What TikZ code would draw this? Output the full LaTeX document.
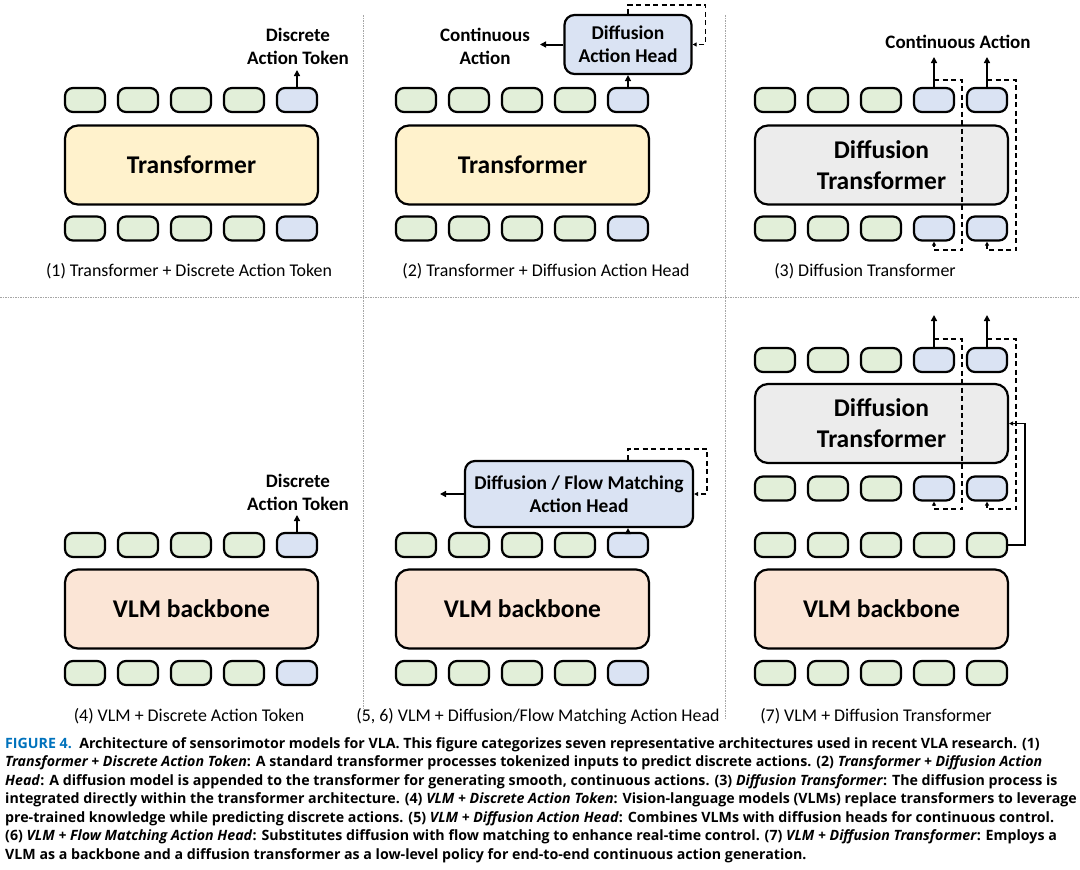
\documentclass[tikz,border=0pt]{standalone}
\usepackage{xcolor}
\usepackage{fontspec}
\setmainfont{Carlito}
\newfontfamily\capfont{Open Sans}
\usepackage{tikz}
\usetikzlibrary{arrows.meta,positioning,calc}
\definecolor{tokgreen}{RGB}{226,239,217}
\definecolor{tokblue}{RGB}{218,227,243}
\definecolor{tfyellow}{RGB}{255,242,204}
\definecolor{ditgray}{RGB}{236,236,236}
\definecolor{vlmpeach}{RGB}{251,229,214}
\definecolor{figblue}{RGB}{0,114,188}
\newcommand{\fsz}[2]{\fontsize{#1}{#2}\selectfont}

\begin{document}
\begin{tikzpicture}[x=1pt, y=-1pt,
  token/.style={draw=black, line width=2.2pt, rounded corners=8pt,
                minimum width=40pt, minimum height=24pt, inner sep=0pt},
  gtok/.style={token, fill=tokgreen},
  btok/.style={token, fill=tokblue},
  bigbox/.style={draw=black, line width=2.2pt, rounded corners=13pt, align=center,
                 minimum width=253pt, minimum height=79pt, inner sep=0pt,
                 font=\fsz{25.5}{31}\bfseries},
  headbox/.style={draw=black, line width=2.2pt, rounded corners=10pt, align=center,
                  fill=tokblue, inner sep=0pt, font=\fsz{19.5}{23}\bfseries},
  lbl/.style={align=center, font=\fsz{19}{23}\bfseries},
  subcap/.style={font=\fsz{17.9}{21}},
  sep/.style={draw=black!35, line width=0.7pt, dash pattern=on 1.5pt off 1pt},
  arr/.style={-{Triangle[length=6pt, width=6pt]}, line width=2pt},
  dasharr/.style={-{Triangle[length=4pt, width=4pt]}, line width=1.4pt,
                  dash pattern=on 5pt off 3.5pt},
  thinarr/.style={-{Triangle[length=4pt, width=4pt]}, line width=1.3pt}]
  \clip (0,0) rectangle (1080,870);
  % panel separators
  \draw[sep] (0,297) -- (1080,297);
  \draw[sep] (363,15) -- (363,720);
  \draw[sep] (725,15) -- (725,720);

  % (1) Transformer + Discrete Action Token
  \node[bigbox, fill=tfyellow] (p1box) at (191.5,165) {Transformer};
  \foreach \i in {1,...,4} {
    \node[gtok] (p1u\i) at ({32+53*\i},100) {};
    \node[gtok] (p1l\i) at ({32+53*\i},228.5) {};
  }
  \node[btok] (p1u5) at (297,100) {};
  \node[btok] (p1l5) at (297,228.5) {};
  \node[lbl] (p1lbl) at (298,46) {Discrete\\Action Token};
  \coordinate (p1out) at (297,70);
  \draw[arr] (p1u5.north) -- (p1out);
  \node[subcap] (p1cap) at (189,271) {(1) Transformer + Discrete Action Token};

  % (2) Transformer + Diffusion Action Head
  \node[bigbox, fill=tfyellow] (p2box) at (522.5,165) {Transformer};
  \foreach \i in {1,...,4} {
    \node[gtok] (p2u\i) at ({363+53*\i},100) {};
    \node[gtok] (p2l\i) at ({363+53*\i},228.5) {};
  }
  \node[btok] (p2u5) at (628,100) {};
  \node[btok] (p2l5) at (628,228.5) {};
  \node[headbox, minimum width=127pt, minimum height=59pt] (p2head) at (628,44.5)
    {Diffusion\\Action Head};
  \node[lbl] (p2lbl) at (485,46) {Continuous\\Action};
  \coordinate (p2out) at (540,44.5);
  \draw[arr] (p2u5.north) -- (p2head.south);
  \draw[arr] (p2head.west) -- (p2out);
  \draw[dasharr] (p2head.north) -- ++(0,-9) -| ([xshift=13pt]p2head.east) -- (p2head.east);
  \node[subcap] (p2cap) at (546,271) {(2) Transformer + Diffusion Action Head};

  % (3) Diffusion Transformer
  \node[bigbox, fill=ditgray] (p3box) at (881.5,165) {Diffusion\\Transformer};
  \foreach \i in {1,...,3} {
    \node[gtok] (p3u\i) at ({722+53*\i},100) {};
    \node[gtok] (p3l\i) at ({722+53*\i},228.5) {};
  }
  \foreach \i in {4,5} {
    \node[btok] (p3u\i) at ({722+53*\i},100) {};
    \node[btok] (p3l\i) at ({722+53*\i},228.5) {};
  }
  \node[lbl] (p3lbl) at (958,42) {Continuous Action};
  \coordinate (p3o4) at (934,57);
  \coordinate (p3o5) at (987,57);
  \draw[arr] (p3u4.north) -- (p3o4);
  \draw[arr] (p3u5.north) -- (p3o5);
  \coordinate (p3a4) at (962,80);
  \coordinate (p3b4) at (962,250);
  \coordinate (p3a5) at (1016,80);
  \coordinate (p3b5) at (1016,250);
  \draw[dasharr] (p3u4.north |- p3a4) -- (p3a4) -- (p3b4) -| (p3l4.south);
  \draw[dasharr] (p3u5.north |- p3a5) -- (p3a5) -- (p3b5) -| (p3l5.south);
  \node[subcap] (p3cap) at (865,271) {(3) Diffusion Transformer};

  % (4) VLM + Discrete Action Token
  \node[bigbox, fill=vlmpeach] (p4box) at (191.5,609) {VLM backbone};
  \foreach \i in {1,...,4} {
    \node[gtok] (p4u\i) at ({32+53*\i},545) {};
    \node[gtok] (p4l\i) at ({32+53*\i},673) {};
  }
  \node[btok] (p4u5) at (297,545) {};
  \node[btok] (p4l5) at (297,673) {};
  \node[lbl] (p4lbl) at (298,492) {Discrete\\Action Token};
  \coordinate (p4out) at (297,515);
  \draw[arr] (p4u5.north) -- (p4out);
  \node[subcap] (p4cap) at (189,716) {(4) VLM + Discrete Action Token};

  % (5, 6) VLM + Diffusion/Flow Matching Action Head
  \node[bigbox, fill=vlmpeach] (p5box) at (522.5,609) {VLM backbone};
  \foreach \i in {1,...,4} {
    \node[gtok] (p5u\i) at ({363+53*\i},545) {};
    \node[gtok] (p5l\i) at ({363+53*\i},673) {};
  }
  \node[btok] (p5u5) at (628,545) {};
  \node[btok] (p5l5) at (628,673) {};
  \node[headbox, minimum width=228pt, minimum height=66pt] (p5head) at (579,494)
    {Diffusion / Flow Matching\\Action Head};
  \coordinate (p5out) at (440,494);
  \draw[arr] (p5u5.north) -- (p5u5.north |- p5head.south);
  \draw[arr] (p5head.west) -- (p5out);
  \draw[dasharr] (p5head.north -| p5u5) -- ++(0,-11) -| ([xshift=13pt]p5head.east) -- (p5head.east);
  \node[subcap] (p5cap) at (538,716) {(5, 6) VLM + Diffusion/Flow Matching Action Head};

  % (7) VLM + Diffusion Transformer
  \node[bigbox, fill=ditgray] (p7dit) at (881.5,423.5) {Diffusion\\Transformer};
  \node[bigbox, fill=vlmpeach] (p7vlm) at (881.5,609) {VLM backbone};
  \foreach \i in {1,...,3} {
    \node[gtok] (p7u\i) at ({722+53*\i},360) {};
    \node[gtok] (p7d\i) at ({722+53*\i},488.5) {};
  }
  \foreach \i in {4,5} {
    \node[btok] (p7u\i) at ({722+53*\i},360) {};
    \node[btok] (p7d\i) at ({722+53*\i},488.5) {};
  }
  \foreach \i in {1,...,5} {
    \node[gtok] (p7m\i) at ({722+53*\i},545) {};
    \node[gtok] (p7l\i) at ({722+53*\i},673) {};
  }
  \coordinate (p7o4) at (934,315);
  \coordinate (p7o5) at (987,315);
  \draw[arr] (p7u4.north) -- (p7o4);
  \draw[arr] (p7u5.north) -- (p7o5);
  \coordinate (p7a4) at (962,339);
  \coordinate (p7b4) at (962,509);
  \coordinate (p7a5) at (1016,339);
  \coordinate (p7b5) at (1016,509);
  \draw[dasharr] (p7u4.north |- p7a4) -- (p7a4) -- (p7b4) -| (p7d4.south);
  \draw[dasharr] (p7u5.north |- p7a5) -- (p7a5) -- (p7b5) -| (p7d5.south);
  \draw[thinarr] (p7m5.east) -- ++(17,0) |- (p7dit.east);
  \node[subcap] (p7cap) at (876,716) {(7) VLM + Diffusion Transformer};

  % figure caption
  \node[anchor=north west, align=left, inner sep=0pt, font=\capfont\fsz{14.2}{18.5}\bfseries] (figcap) at (5,737)
    {\textcolor{figblue}{FIGURE 4.}\ \ Architecture of sensorimotor models for VLA. This figure categorizes seven representative architectures used in recent VLA research. (1)\\
     \textit{Transformer + Discrete Action Token}: A standard transformer processes tokenized inputs to predict discrete actions. (2) \textit{Transformer + Diffusion Action}\\
     \textit{Head}: A diffusion model is appended to the transformer for generating smooth, continuous actions. (3) \textit{Diffusion Transformer}: The diffusion process is\\
     integrated directly within the transformer architecture. (4) \textit{VLM + Discrete Action Token}: Vision-language models (VLMs) replace transformers to leverage\\
     pre-trained knowledge while predicting discrete actions. (5) \textit{VLM + Diffusion Action Head}: Combines VLMs with diffusion heads for continuous control.\\
     (6) \textit{VLM + Flow Matching Action Head}: Substitutes diffusion with flow matching to enhance real-time control. (7) \textit{VLM + Diffusion Transformer}: Employs a\\
     VLM as a backbone and a diffusion transformer as a low-level policy for end-to-end continuous action generation.};
\end{tikzpicture}
\end{document}
